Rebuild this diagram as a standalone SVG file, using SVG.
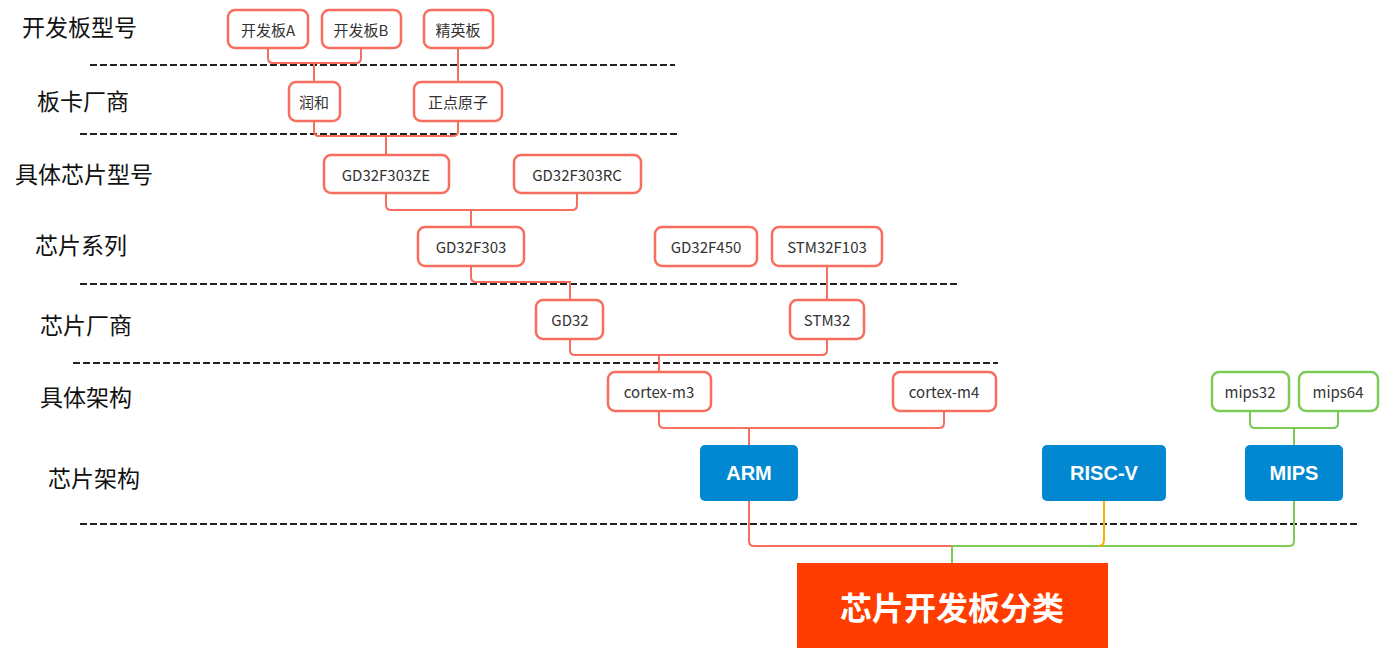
<svg xmlns="http://www.w3.org/2000/svg" width="1393" height="659" viewBox="0 0 1393 659">
<style>
.n rect{fill:#fff;stroke:#F76E5E;stroke-width:2.5}
.g rect{fill:#fff;stroke:#7DCB57;stroke-width:2.5}
.n text,.g text{font-family:"Noto Sans CJK SC","Noto Sans",sans-serif;font-size:15px;fill:#333;text-anchor:middle;dominant-baseline:central}
.b rect{fill:#0288D1}
.b text{font-family:"Liberation Sans",sans-serif;font-size:20px;font-weight:bold;fill:#fff;text-anchor:middle;dominant-baseline:central}
.lab{font-family:"Noto Sans CJK SC",sans-serif;font-size:23px;fill:#111}
.d{stroke:#222;stroke-width:2;stroke-dasharray:7 3;fill:none}
.r{stroke:#F76E5E;stroke-width:2;fill:none}
.gr{stroke:#7DCB57;stroke-width:2;fill:none}
.o{stroke:#F5B301;stroke-width:2;fill:none}
</style>
<g id="labels">
<text class="lab" x="22" y="36">开发板型号</text>
<text class="lab" x="37" y="110">板卡厂商</text>
<text class="lab" x="15" y="183">具体芯片型号</text>
<text class="lab" x="35" y="254">芯片系列</text>
<text class="lab" x="40" y="334">芯片厂商</text>
<text class="lab" x="40" y="406">具体架构</text>
<text class="lab" x="48" y="487">芯片架构</text>
</g>
<g id="dividers">
<line class="d" x1="90" y1="65" x2="675" y2="65"/>
<line class="d" x1="80" y1="134" x2="680" y2="134"/>
<line class="d" x1="80" y1="284" x2="960" y2="284"/>
<line class="d" x1="73" y1="363" x2="998" y2="363"/>
<line class="d" x1="80" y1="524" x2="1360" y2="524"/>
</g>
<g id="connectors">
<path class="r" d="M268 48V58q0 5 5 5H356q5 0 5-5V48M314 63V82"/>
<path class="r" d="M458 48V82"/>
<path class="r" d="M314 121V131q0 5 5 5H453q5 0 5-5V121M386 136V155"/>
<path class="r" d="M386 193V205q0 5 5 5H572q5 0 5-5V193M471 210V227"/>
<path class="r" d="M471 266V277q0 5 5 5H570V300"/>
<path class="r" d="M827 266V300"/>
<path class="r" d="M570 339V350q0 5 5 5H822q5 0 5-5V339M659 355V372"/>
<path class="r" d="M659 411V423q0 5 5 5H939q5 0 5-5V411M749 428V445"/>
<path class="gr" d="M1250 411V423q0 5 5 5H1333q5 0 5-5V411M1294 428V445"/>
<path class="r" d="M749 501V541q0 5 5 5H952"/>
<path class="gr" d="M952 546H1289q5 0 5-5V501M952 546V563"/>
<path class="o" d="M1104 501V540q0 6-6 6"/>
</g>
<g id="n-A" class="n"><rect x="228" y="10" width="80" height="38" rx="7"/><text x="268" y="29">开发板A</text></g>
<g id="n-B" class="n"><rect x="322" y="10" width="79" height="38" rx="7"/><text x="361" y="29">开发板B</text></g>
<g id="n-jy" class="n"><rect x="424" y="10" width="69" height="38" rx="7"/><text x="458" y="29">精英板</text></g>
<g id="n-rh" class="n"><rect x="289" y="82" width="51" height="39" rx="7"/><text x="314" y="101">润和</text></g>
<g id="n-zd" class="n"><rect x="414" y="82" width="88" height="39" rx="7"/><text x="458" y="101">正点原子</text></g>
<g id="n-ze" class="n"><rect x="324" y="155" width="125" height="38" rx="7"/><text x="386" y="174">GD32F303ZE</text></g>
<g id="n-rc" class="n"><rect x="514" y="155" width="127" height="38" rx="7"/><text x="577" y="174">GD32F303RC</text></g>
<g id="n-303" class="n"><rect x="418" y="227" width="106" height="39" rx="7"/><text x="471" y="246">GD32F303</text></g>
<g id="n-450" class="n"><rect x="655" y="227" width="102" height="39" rx="7"/><text x="706" y="246">GD32F450</text></g>
<g id="n-f103" class="n"><rect x="772" y="227" width="110" height="39" rx="7"/><text x="827" y="246">STM32F103</text></g>
<g id="n-gd32" class="n"><rect x="536" y="300" width="67" height="39" rx="7"/><text x="570" y="319">GD32</text></g>
<g id="n-stm32" class="n"><rect x="790" y="300" width="74" height="39" rx="7"/><text x="827" y="319">STM32</text></g>
<g id="n-m3" class="n"><rect x="608" y="372" width="103" height="39" rx="7"/><text x="659" y="391">cortex-m3</text></g>
<g id="n-m4" class="n"><rect x="893" y="372" width="103" height="39" rx="7"/><text x="944" y="391">cortex-m4</text></g>
<g id="n-mips32" class="g"><rect x="1212" y="372" width="77" height="39" rx="7"/><text x="1250" y="391">mips32</text></g>
<g id="n-mips64" class="g"><rect x="1299" y="372" width="79" height="39" rx="7"/><text x="1338" y="391">mips64</text></g>
<g id="n-arm" class="b"><rect x="700" y="445" width="98" height="56" rx="5"/><text x="749" y="473">ARM</text></g>
<g id="n-riscv" class="b"><rect x="1042" y="445" width="124" height="56" rx="5"/><text x="1104" y="473">RISC-V</text></g>
<g id="n-mips" class="b"><rect x="1245" y="445" width="98" height="56" rx="5"/><text x="1294" y="473">MIPS</text></g>
<g id="n-title"><rect x="797" y="563" width="311" height="85" fill="#FF3D00"/><text x="952" y="606" font-family="Noto Sans CJK SC,sans-serif" font-size="32" font-weight="bold" fill="#fff" text-anchor="middle" dominant-baseline="central">芯片开发板分类</text></g>
</svg>
